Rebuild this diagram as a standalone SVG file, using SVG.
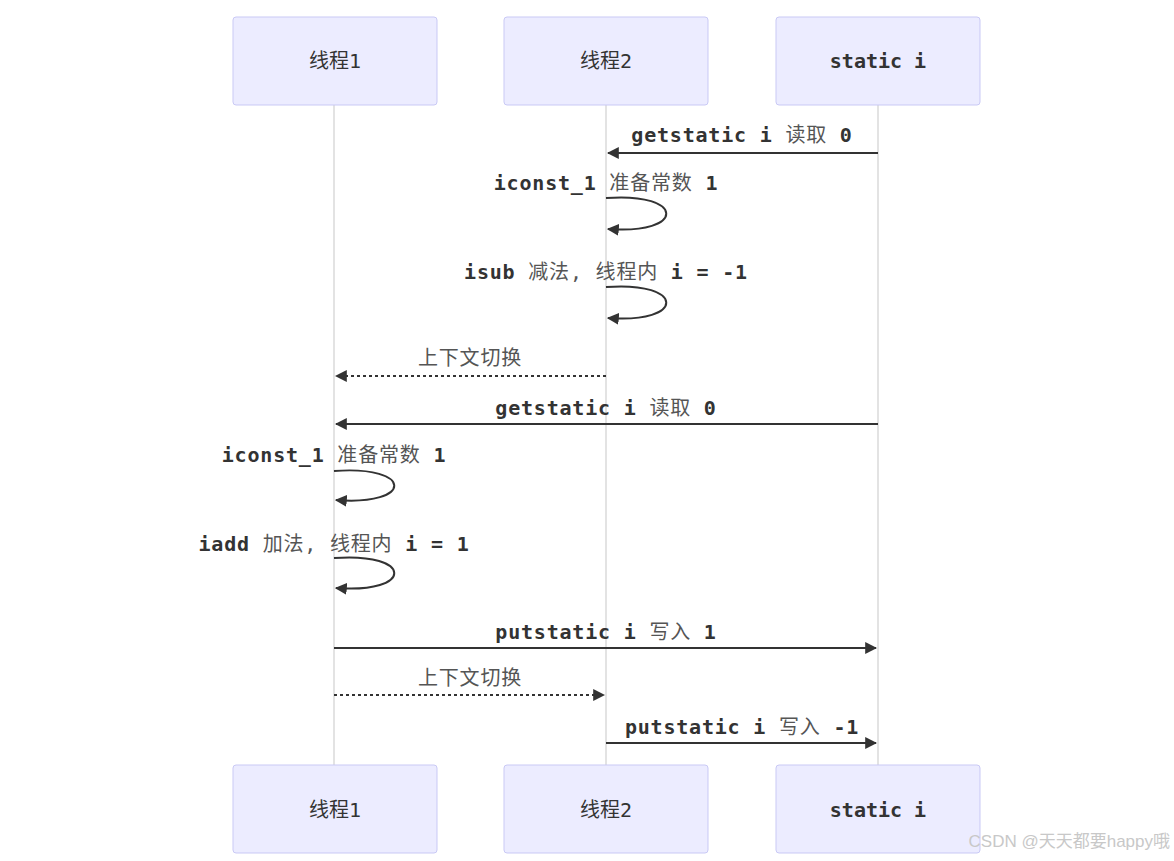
<svg xmlns="http://www.w3.org/2000/svg" width="1174" height="861" viewBox="0 0 1174 861">
<defs>
<style>
.box{fill:#ececff;stroke:#c9c9f5;stroke-width:1}
.life{stroke:#d0d0d0;stroke-width:1.2}
.msg{stroke:#333;stroke-width:2;fill:none}
.dash{stroke:#333;stroke-width:2;fill:none;stroke-dasharray:3,3}
.t{font-family:"DejaVu Sans Mono","Noto Sans CJK SC",monospace;font-size:20px;font-weight:bold;fill:#333;text-anchor:middle;letter-spacing:0.8px}
.c{font-weight:normal;fill:#555}
.n{font-family:"DejaVu Sans Mono","Noto Sans CJK SC",monospace;font-size:20px;fill:#333;text-anchor:middle}
</style>
<marker id="a" viewBox="0 0 10 10" refX="9" refY="5" markerWidth="12" markerHeight="12" markerUnits="userSpaceOnUse" orient="auto"><path d="M0,0L10,5L0,10z" fill="#333"/></marker>
</defs>
<rect width="1174" height="861" fill="#fff"/>
<g id="lifelines">
<line class="life" x1="334" y1="105" x2="334" y2="765"/>
<line class="life" x1="606" y1="105" x2="606" y2="765"/>
<line class="life" x1="878" y1="105" x2="878" y2="765"/>
</g>
<g id="t1top"><rect class="box" x="233" y="17" width="204" height="88" rx="3"/><text class="n" x="335" y="68">线程1</text></g>
<g id="t2top"><rect class="box" x="504" y="17" width="204" height="88" rx="3"/><text class="n" x="606" y="68">线程2</text></g>
<g id="stop"><rect class="box" x="776" y="17" width="204" height="88" rx="3"/><text class="n" x="878" y="68" font-weight="bold">static i</text></g>
<g id="t1bot"><rect class="box" x="233" y="765" width="204" height="88" rx="3"/><text class="n" x="335" y="817">线程1</text></g>
<g id="t2bot"><rect class="box" x="504" y="765" width="204" height="88" rx="3"/><text class="n" x="606" y="817">线程2</text></g>
<g id="sbot"><rect class="box" x="776" y="765" width="204" height="88" rx="3"/><text class="n" x="878" y="817" font-weight="bold">static i</text></g>
<g id="connectors">
<line class="msg" x1="878" y1="153" x2="608" y2="153" marker-end="url(#a)"/>
<path class="msg" d="M606,198 C686,192 686,235 608,229" marker-end="url(#a)"/>
<path class="msg" d="M606,287 C686,281 686,324 608,318" marker-end="url(#a)"/>
<line class="dash" x1="606" y1="376" x2="336" y2="376" marker-end="url(#a)"/>
<line class="msg" x1="878" y1="424" x2="336" y2="424" marker-end="url(#a)"/>
<path class="msg" d="M334,471 C414,465 414,506 336,500" marker-end="url(#a)"/>
<path class="msg" d="M334,558 C414,552 414,594 336,588" marker-end="url(#a)"/>
<line class="msg" x1="334" y1="648" x2="876" y2="648" marker-end="url(#a)"/>
<line class="dash" x1="334" y1="695" x2="604" y2="695" marker-end="url(#a)"/>
<line class="msg" x1="606" y1="743" x2="876" y2="743" marker-end="url(#a)"/>
</g>
<g id="labels">
<text class="t" x="742" y="142">getstatic i <tspan class="c">读取</tspan> 0</text>
<text class="t" x="606" y="190">iconst_1 <tspan class="c">准备常数</tspan> 1</text>
<text class="t" x="606" y="279">isub <tspan class="c">减法, 线程内</tspan> i = -1</text>
<text class="t c" x="470" y="365">上下文切换</text>
<text class="t" x="606" y="415">getstatic i <tspan class="c">读取</tspan> 0</text>
<text class="t" x="334" y="462">iconst_1 <tspan class="c">准备常数</tspan> 1</text>
<text class="t" x="334" y="551">iadd <tspan class="c">加法, 线程内</tspan> i = 1</text>
<text class="t" x="606" y="639">putstatic i <tspan class="c">写入</tspan> 1</text>
<text class="t c" x="470" y="685">上下文切换</text>
<text class="t" x="742" y="734">putstatic i <tspan class="c">写入</tspan> -1</text>
</g>
<text x="1170" y="847" text-anchor="end" font-family="'Liberation Sans','Noto Sans CJK SC',sans-serif" font-size="17" fill="#c8c8c8">CSDN @天天都要happy哦</text>
</svg>
